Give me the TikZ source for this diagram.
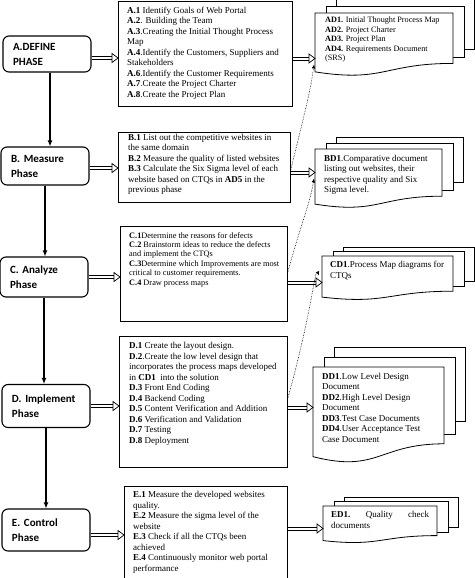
\documentclass[tikz,border=0pt]{standalone}
\usepackage{fontspec}
\setmainfont{Liberation Serif}
\newfontfamily\phasefont{Carlito}
\usetikzlibrary{arrows.meta,calc}

\newcommand{\docstack}[8]{%
\filldraw[docline,fill=white] ({#2+21},{#3-2*#6}) rectangle ({#2+21+#4},{#3+0.57*#5});
\filldraw[docline,fill=white] ({#2+11},{#3-#6}) rectangle ({#2+11+#4},{#3+0.7*#5});
\filldraw[docline,fill=white] (#2,#3) -- ({#2+#4},#3) -- ({#2+#4},{#3+0.8*#5})
  .. controls ({#2+0.5*#4},{#3+0.8*#5}) and ({#2+0.5*#4},{#3+1.107*#5}) .. (#2,{#3+0.934*#5}) -- cycle;
\node[docpage,minimum width=#4pt,minimum height={0.8*#5}] (#1) at (#2,#3) {};
\node[doctext,#7] (#1txt) at ($(#1.north west)+(9,5)$) {#8};
}
\newcommand{\dblarrow}[2]{%
\draw[arrline] ($(#1)+(0,1.5)$) -- ($(#2)+(-6,1.5)$) ($(#1)+(0,-1.5)$) -- ($(#2)+(-6,-1.5)$);
\filldraw[arrline,fill=white] ($(#2)+(-6,4.5)$) -- (#2) -- ($(#2)+(-6,-4.5)$) -- cycle;
}

\begin{document}
\begin{tikzpicture}[x=1pt,y=-1pt,
  phase/.style={draw,rounded corners=6pt,line width=1.1pt,minimum width=88pt,text width=68pt,
    inner xsep=10pt,align=left,font=\phasefont\bfseries\fontsize{11}{15}\selectfont},
  taskbox/.style={draw,line width=0.9pt,anchor=north west,inner sep=0pt},
  tasklist/.style={anchor=north west,align=left,inner sep=0pt,font=\fontsize{9}{10.5}\selectfont},
  docpage/.style={anchor=north west,inner sep=0pt},
  doctext/.style={anchor=north west,align=left,inner sep=0pt,font=\fontsize{9}{10.5}\selectfont},
  docline/.style={line width=0.8pt},
  arrline/.style={line width=0.7pt},
  down/.style={line width=1.1pt,-{Latex[length=6pt,width=5pt]}},
  dots/.style={densely dotted,line width=0.6pt,-{Latex[length=4pt,width=3.5pt]}}]
\useasboundingbox (0,0) rectangle (474,578);

\node[phase,minimum height=36pt] (a) at (47,54) {A.DEFINE\\PHASE};
\node[phase,minimum height=38pt] (b) at (45,166) {B. Measure\\Phase};
\node[phase,minimum height=40pt] (c) at (44,277) {C. Analyze\\Phase};
\node[phase,minimum height=43pt] (d) at (46,406) {D. Implement\\Phase};
\node[phase,minimum height=42pt] (e) at (46,530) {E. Control\\Phase};

\node[taskbox,minimum width=174pt,minimum height=105pt] (atask) at (118,1) {};
\node[tasklist] (atxt) at ($(atask.north west)+(9,5.5)$) {%
\textbf{A.1} Identify Goals of Web Portal\\
\textbf{A.2}. Building the Team\\
\textbf{A.3}.Creating the Initial Thought Process\\
Map\\
\textbf{A.4}.Identify the Customers, Suppliers and\\
Stakeholders\\
\textbf{A.6}.Identify the Customer Requirements\\
\textbf{A.7}.Create the Project Charter\\
\textbf{A.8}.Create the Project Plan};
\node[taskbox,minimum width=172pt,minimum height=70pt] (btask) at (118,132) {};
\node[tasklist] (btxt) at ($(btask.north west)+(10,2)$) {%
\textbf{B.1} List out the competitive websites in\\
the same domain\\
\textbf{B.2} Measure the quality of listed websites\\
\textbf{B.3} Calculate the Six Sigma level of each\\
website based on CTQs in \textbf{AD5} in the\\
previous phase};
\node[taskbox,minimum width=167pt,minimum height=95pt] (ctask) at (120,226) {};
\node[tasklist,font=\fontsize{8.3}{9.4}\selectfont] (ctxt) at ($(ctask.north west)+(9,6)$) {%
\textbf{C.1}Determine the reasons for defects\\
\textbf{C.2} Brainstorm ideas to reduce the defects\\
and implement the CTQs\\
\textbf{C.3}Determine which Improvements are most\\
critical to customer requirements.\\
\textbf{C.4} Draw process maps};
\node[taskbox,minimum width=168pt,minimum height=131pt] (dtask) at (119,336) {};
\node[tasklist] (dtxt) at ($(dtask.north west)+(10,6.5)$) {%
\textbf{D.1} Create the layout design.\\
\textbf{D.2}.Create the low level design that\\
incorporates the process maps developed\\
in \textbf{CD1}\ \ into the solution\\
\textbf{D.3} Front End Coding\\
\textbf{D.4} Backend Coding\\
\textbf{D.5} Content Verification and Addition\\
\textbf{D.6} Verification and Validation\\
\textbf{D.7} Testing\\
\textbf{D.8} Deployment};
\node[taskbox,minimum width=163pt,minimum height=96pt] (etask) at (124,486) {};
\node[tasklist] (etxt) at ($(etask.north west)+(9,5.5)$) {%
\textbf{E.1} Measure the developed websites\\
quality.\\
\textbf{E.2} Measure the sigma level of the\\
website\\
\textbf{E.3} Check if all the CTQs been\\
achieved\\
\textbf{E.4} Continuously monitor web portal\\
performance};

\docstack{ad}{315}{13}{138}{63}{7}{font=\fontsize{8.2}{9.5}\selectfont,xshift=1pt,yshift=1pt}{%
\textbf{AD1.} Initial Thought Process Map\\
\textbf{AD2.} Project Charter\\
\textbf{AD3.} Project Plan\\
\textbf{AD4.} Requirements Document\\
(SRS)}
\docstack{bd}{315}{149}{127}{59}{6}{yshift=-1pt}{%
\textbf{BD1}.Comparative document\\
listing out websites, their\\
respective quality and Six\\
Sigma level.}
\docstack{cd}{322}{256}{131}{44}{4.5}{xshift=-1pt}{%
\textbf{CD1}.Process Map diagrams for\\
CTQs}
\docstack{dd}{313}{367}{131}{96}{10}{yshift=-1pt}{%
\textbf{DD1}.Low Level Design\\
Document\\
\textbf{DD2}.High Level Design\\
Document\\
\textbf{DD3}.Test Case Documents\\
\textbf{DD4}.User Acceptance Test\\
Case Document}
\docstack{ed}{323}{506}{114}{37}{4.5}{xshift=-1pt,text width=98pt,font=\fontsize{9}{11.5}\selectfont}{%
\textbf{ED1.}\hfill Quality\hfill check\\
documents}

\coordinate (ain) at ($(a.east)+(0,4)$);
\coordinate (bin) at ($(b.east)+(0,2)$);
\coordinate (cin) at (c.east);
\coordinate (din) at (d.east);
\coordinate (ein) at ($(e.east)+(0,5)$);
\coordinate (aout) at ($(atask.east)+(0,4.5)$);
\coordinate (bout) at ($(btask.east)+(0,5)$);
\coordinate (cout) at ($(ctask.east)+(0,8.5)$);
\coordinate (dout) at ($(dtask.east)+(0,5.5)$);
\coordinate (eout) at ($(etask.east)+(0,-6)$);

\draw[down] ($(a.south)+(3,0)$) -- ($(a.south |- b.north)+(3,0)$);
\draw[down] (b.south) -- (b.south |- c.north);
\draw[down] (c.south) -- (c.south |- d.north);
\draw[down] (d.south) -- (d.south |- e.north);

\dblarrow{ain}{atask.west |- ain}
\dblarrow{bin}{btask.west |- bin}
\dblarrow{cin}{ctask.west |- cin}
\dblarrow{din}{dtask.west |- din}
\dblarrow{ein}{etask.west |- ein}

\dblarrow{aout}{ad.west |- aout}
\dblarrow{bout}{bd.west |- bout}
\dblarrow{cout}{cd.west |- cout}
\dblarrow{dout}{dd.west |- dout}
\dblarrow{eout}{ed.west |- eout}

\draw[dots] ($(btask.east)+(0,2)$) .. controls +(12,-50) and +(-4,30) .. ($(ad.west |- aout)+(-1,6)$);
\draw[dots] ($(ctask.east)+(0,-2)$) .. controls +(12,-45) and +(-4,25) .. ($(bd.west |- bout)+(-1,6)$);
\draw[dots] ($(dtask.east)+(0,-4)$) .. controls +(25,-90) and +(-4,-10) .. ($(cd.west |- cout)+(-3,-7)$);
\end{tikzpicture}
\end{document}
